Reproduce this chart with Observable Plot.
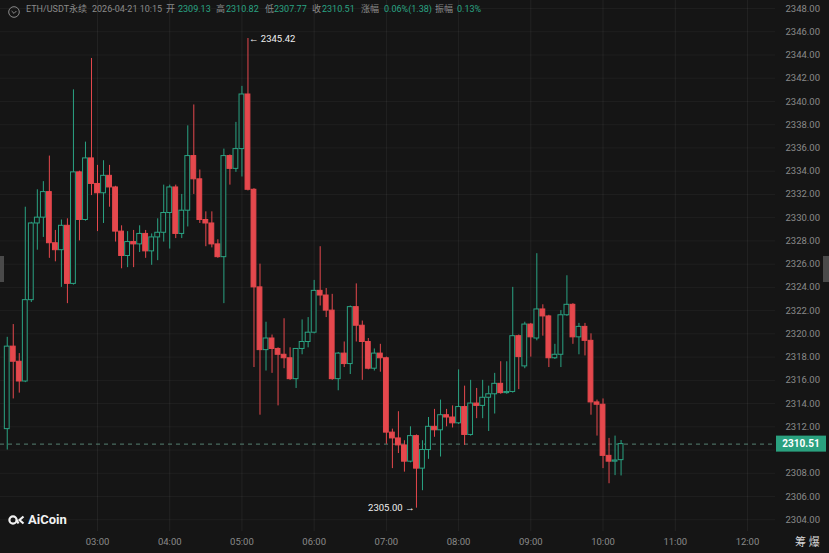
<!DOCTYPE html>
<html>
<head>
<meta charset="utf-8">
<script src="https://cdn.jsdelivr.net/npm/d3@7"></script>
<script src="https://cdn.jsdelivr.net/npm/@observablehq/plot@0.6"></script>
<style>
  html, body { margin: 0; padding: 0; background: #151515; }
  #wrap { position: relative; width: 829px; height: 553px; overflow: hidden; background: #151515;
          font-family: Roboto, "Noto Sans CJK SC", sans-serif; }
  #chart { position: absolute; left: 0; top: 0; }
  .hd { position: absolute; top: 3px; font-size: 9px; line-height: 12px; white-space: nowrap; }
  .lb { color: #8a8a8a; }
  .vl { color: #2aa383; }
  #logo { position: absolute; left: 8px; top: 512px; color: #f2f2f2; font-weight: 700; font-size: 13px; display: flex; align-items: center; gap: 3px; }
  #corner { position: absolute; left: 795px; top: 536px; color: #d6d6d6; font-size: 11px; line-height: 14px; white-space: nowrap; }
  .tab { position: absolute; top: 256px; width: 5px; height: 26px; background: #4a4a4a; }
</style>
</head>
<body>
<div id="wrap">
  <div id="chart"></div>
</div>
<script>
// ---- data ----
const symbol = "ETH/USDT永续";
const day = "2026-04-21";
const times = [
  "01:45","01:50","01:55",
  "02:00","02:05","02:10","02:15","02:20","02:25","02:30","02:35","02:40","02:45","02:50","02:55",
  "03:00","03:05","03:10","03:15","03:20","03:25","03:30","03:35","03:40","03:45","03:50","03:55",
  "04:00","04:05","04:10","04:15","04:20","04:25","04:30","04:35","04:40","04:45","04:50","04:55",
  "05:00","05:05","05:10","05:15","05:20","05:25","05:30","05:35","05:40","05:45","05:50","05:55",
  "06:00","06:05","06:10","06:15","06:20","06:25","06:30","06:35","06:40","06:45","06:50","06:55",
  "07:00","07:05","07:10","07:15","07:20","07:25","07:30","07:35","07:40","07:45","07:50","07:55",
  "08:00","08:05","08:10","08:15","08:20","08:25","08:30","08:35","08:40","08:45","08:50","08:55",
  "09:00","09:05","09:10","09:15","09:20","09:25","09:30","09:35","09:40","09:45","09:50","09:55",
  "10:00","10:05","10:10","10:15"
];
const open = [
  2311.8,2318.9,2317.6,2315.9,2322.9,2329.5,2330.0,2332.2,2327.8,2327.2,
  2329.3,2324.3,2333.9,2329.8,2335.1,2332.9,2332.1,2333.6,2332.6,2328.8,
  2326.7,2327.9,2327.7,2328.6,2327.1,2328.3,2328.7,2330.4,2332.6,2328.6,
  2330.6,2335.3,2333.3,2329.8,2329.5,2327.7,2326.6,2335.3,2334.2,2335.9,
  2340.6,2332.4,2324.0,2318.6,2319.6,2318.7,2318.2,2317.9,2316.1,2318.7,
  2319.3,2320.1,2323.7,2323.3,2322.0,2316.1,2318.3,2317.4,2322.3,2320.7,
  2319.3,2317.0,2318.3,2317.9,2311.5,2311.0,2310.4,2309.0,2311.2,2308.4,
  2310.0,2312.0,2311.7,2313.0,2312.8,2312.3,2313.7,2311.3,2314.0,2313.8,
  2314.5,2314.8,2315.7,2314.9,2315.0,2319.8,2317.2,2320.8,2319.6,2322.1,
  2321.5,2317.9,2318.2,2321.6,2322.5,2319.7,2320.6,2319.4,2314.1,2313.9,
  2309.5,2309.0,2309.13
];
const high = [
  2319.7,2320.8,2318.3,2330.9,2329.6,2332.4,2333.1,2335.3,2328.9,2329.8,
  2329.9,2341.0,2334.0,2336.5,2343.7,2334.5,2334.9,2334.5,2332.7,2329.3,
  2328.8,2328.9,2329.3,2328.9,2328.6,2329.9,2332.8,2332.8,2332.8,2332.0,
  2337.9,2339.7,2334.1,2330.5,2330.5,2328.1,2335.9,2335.4,2338.2,2341.3,
  2345.42,2332.5,2326.0,2321.0,2319.9,2318.8,2321.3,2318.8,2318.7,2321.2,
  2321.4,2324.6,2327.5,2323.9,2323.4,2318.4,2319.3,2322.4,2324.3,2321.1,
  2319.6,2318.7,2319.1,2318.0,2311.8,2313.3,2310.8,2312.0,2311.3,2310.8,
  2312.8,2313.5,2314.3,2313.5,2313.8,2316.9,2315.5,2316.0,2315.3,2316.0,
  2315.5,2316.6,2317.6,2317.6,2324.0,2319.9,2321.0,2320.9,2326.9,2322.5,
  2321.6,2319.1,2322.0,2325.0,2322.6,2320.9,2320.9,2320.0,2314.3,2314.4,
  2311.0,2311.2,2310.82
];
const low = [
  2310.0,2314.4,2314.9,2315.8,2322.7,2327.2,2328.3,2326.5,2326.2,2324.0,
  2322.6,2324.2,2328.0,2329.7,2331.9,2328.8,2329.5,2330.9,2327.9,2325.6,
  2325.7,2325.7,2327.0,2326.5,2325.9,2326.3,2327.9,2327.3,2328.2,2328.2,
  2329.2,2332.0,2329.5,2327.5,2327.4,2326.5,2322.6,2332.8,2333.9,2333.5,
  2332.3,2317.1,2313.0,2316.8,2316.6,2313.8,2317.0,2316.0,2315.3,2318.2,
  2318.8,2320.0,2322.4,2321.4,2316.0,2315.1,2317.1,2316.5,2319.3,2316.0,
  2316.9,2316.8,2316.7,2310.5,2308.4,2309.7,2308.1,2308.9,2305.0,2306.5,
  2309.2,2311.1,2309.4,2312.0,2311.9,2312.2,2310.4,2311.2,2312.7,2312.7,
  2311.6,2313.1,2314.8,2314.8,2314.9,2315.2,2317.0,2318.0,2319.4,2319.8,
  2317.1,2317.8,2317.1,2321.5,2319.1,2318.2,2318.1,2313.0,2311.2,2308.4,
  2307.1,2307.8,2307.77
];
const close = [
  2318.9,2317.6,2315.9,2322.9,2329.5,2330.0,2332.2,2327.8,2327.2,2329.3,
  2324.3,2333.9,2329.8,2335.1,2332.9,2332.1,2333.6,2332.6,2328.8,2326.7,
  2327.9,2327.7,2328.6,2327.1,2328.3,2328.7,2330.4,2332.6,2328.6,2330.6,
  2335.3,2333.3,2329.8,2329.5,2327.7,2326.6,2335.3,2334.2,2335.9,2340.6,
  2332.4,2324.0,2318.6,2319.6,2318.7,2318.2,2317.9,2316.1,2318.7,2319.3,
  2320.1,2323.7,2323.3,2322.0,2316.1,2318.3,2317.4,2322.3,2320.7,2319.3,
  2317.0,2318.3,2317.9,2311.5,2311.0,2310.4,2309.0,2311.2,2308.4,2310.0,
  2312.0,2311.7,2313.0,2312.8,2312.3,2313.7,2311.3,2314.0,2313.8,2314.5,
  2314.8,2315.7,2314.9,2315.0,2319.8,2318.0,2320.8,2319.7,2322.1,2321.5,
  2317.9,2318.2,2321.6,2322.5,2319.7,2320.6,2319.4,2314.1,2313.9,2309.5,
  2309.0,2309.1,2310.51
];
const priceTicks = [2304,2306,2308,2310,2312,2314,2316,2318,2320,2322,2324,2326,2328,2330,2332,2334,2336,2338,2340,2342,2344,2346,2348];
const timeTicks = ["03:00","04:00","05:00","06:00","07:00","08:00","09:00","10:00","11:00","12:00"];

// ---- style ----
const UP = "#2aa383", DOWN = "#e5484d", BG = "#151515";
const toDate = t => new Date(`${day}T${t}:00Z`);

const candles = times.map((t, i) => {
  const d = toDate(t);
  return {
    date: d,
    x1: new Date(+d - 2 * 60000), x2: new Date(+d + 2 * 60000),
    open: open[i], high: high[i], low: low[i], close: close[i],
    up: close[i] >= open[i],
    bLo: Math.min(open[i], close[i]), bHi: Math.max(open[i], close[i])
  };
});
const last = candles[candles.length - 1];
const hi = candles.reduce((a, b) => b.high > a.high ? b : a);
const lo = candles.reduce((a, b) => b.low < a.low ? b : a);
const fmt = d3.utcFormat("%H:%M");
// the price tag hides the axis label it sits on
const labelTicks = priceTicks.filter(v => Math.abs(v - last.close) > 1.2);

const chart = Plot.plot({
  width: 829, height: 553,
  marginLeft: 0, marginRight: 54, marginTop: 0, marginBottom: 22,
  style: { background: BG, color: "#8a8a8a", fontFamily: "Roboto, sans-serif", fontSize: "9px", overflow: "visible" },
  x: { type: "utc", domain: [new Date(`${day}T01:39:24Z`), new Date(`${day}T12:23:18Z`)] },
  y: { domain: [2302.99, 2348.69] },
  marks: [
    Plot.gridY(priceTicks, { stroke: "#ffffff", strokeOpacity: 0.045 }),
    Plot.gridX(timeTicks.map(toDate), { stroke: "#ffffff", strokeOpacity: 0.06 }),
    Plot.axisY({ anchor: "right", ticks: labelTicks, tickFormat: d => d.toFixed(2), tickSize: 0, tickPadding: 10, fill: "#8a8a8a", fontSize: 9.5 }),
    Plot.axisX({ ticks: timeTicks.map(toDate), tickFormat: fmt, tickSize: 0, tickPadding: 7, fill: "#8a8a8a", fontSize: 9.5 }),
    Plot.ruleY([last.close], { stroke: "#5d8c7c", strokeDasharray: "4,4", strokeOpacity: 0.9 }),
    Plot.ruleX(candles, { x: "date", y1: "low", y2: "high", stroke: d => d.up ? UP : DOWN, strokeWidth: 1 }),
    Plot.rect(candles, { x1: "x1", x2: "x2", y1: "bLo", y2: "bHi",
      fill: d => d.up ? BG : DOWN, stroke: d => d.up ? UP : DOWN, strokeWidth: 1 }),
    Plot.text([hi], { x: "date", y: "high", text: d => "← " + d.high.toFixed(2), textAnchor: "start", dx: 1, fill: "#eeeeee", fontSize: 9.5 }),
    Plot.text([lo], { x: "date", y: "low", text: d => d.low.toFixed(2) + " →", textAnchor: "end", dx: -2, fill: "#eeeeee", fontSize: 9.5 })
  ]
});
document.getElementById("chart").appendChild(chart);

// current price tag on the price axis
const svg = d3.select(chart);
const yp = chart.scale("y").apply(last.close);
const g = svg.append("g");
g.append("rect").attr("x", 776).attr("y", yp - 8).attr("width", 50).attr("height", 16).attr("fill", "#2aa17f");
g.append("text").attr("x", 801).attr("y", yp).attr("text-anchor", "middle").attr("dominant-baseline", "central")
  .attr("fill", "#ffffff").attr("font-weight", "700").attr("font-size", 10).text(last.close.toFixed(2));

// header
const wrap = document.getElementById("wrap");
const chg = last.close - last.open;
const items = [
  [26, "lb", symbol], [92, "lb", `${day} ${times[times.length - 1]}`],
  [166, "lb", "开"], [178, "vl", last.open.toFixed(2)],
  [216, "lb", "高"], [226, "vl", last.high.toFixed(2)],
  [265, "lb", "低"], [274, "vl", last.low.toFixed(2)],
  [312, "lb", "收"], [322, "vl", last.close.toFixed(2)],
  [361, "lb", "涨幅"], [384, "vl", `${(chg / last.open * 100).toFixed(2)}%(${chg.toFixed(2)})`],
  [435, "lb", "振幅"], [457, "vl", `${((last.high - last.low) / last.open * 100).toFixed(2)}%`]
];
for (const [x, cls, txt] of items) {
  const s = document.createElement("span");
  s.className = "hd " + cls; s.style.left = x + "px"; s.textContent = txt;
  wrap.appendChild(s);
}
const icon = document.createElement("div");
icon.style.cssText = "position:absolute;left:8px;top:3px;";
icon.innerHTML = '<svg width="12" height="12"><circle cx="6" cy="6" r="5.3" fill="none" stroke="#8a8a8a" stroke-width="1"/><path d="M3.6 5 L6 7.4 L8.4 5" fill="none" stroke="#8a8a8a" stroke-width="1"/></svg>';
wrap.appendChild(icon);

// logo, corner, side tabs
const logo = document.createElement("div");
logo.id = "logo";
logo.innerHTML = '<svg width="17" height="12"><circle cx="5" cy="6" r="3.6" fill="none" stroke="#f2f2f2" stroke-width="2.2"/><path d="M8.6 6 L10.5 9.6" stroke="#f2f2f2" stroke-width="2.2"/><path d="M15.5 2.5 L11.5 6 L15.5 9.5" fill="none" stroke="#f2f2f2" stroke-width="2.2"/></svg><span>AiCoin</span>';
wrap.appendChild(logo);
const corner = document.createElement("div");
corner.id = "corner"; corner.textContent = "筹 爆";
wrap.appendChild(corner);
const tl = document.createElement("div"); tl.className = "tab"; tl.style.left = "0px"; tl.style.width = "4px"; wrap.appendChild(tl);
const tr = document.createElement("div"); tr.className = "tab"; tr.style.left = "823px"; tr.style.width = "6px"; wrap.appendChild(tr);
</script>
</body>
</html>
